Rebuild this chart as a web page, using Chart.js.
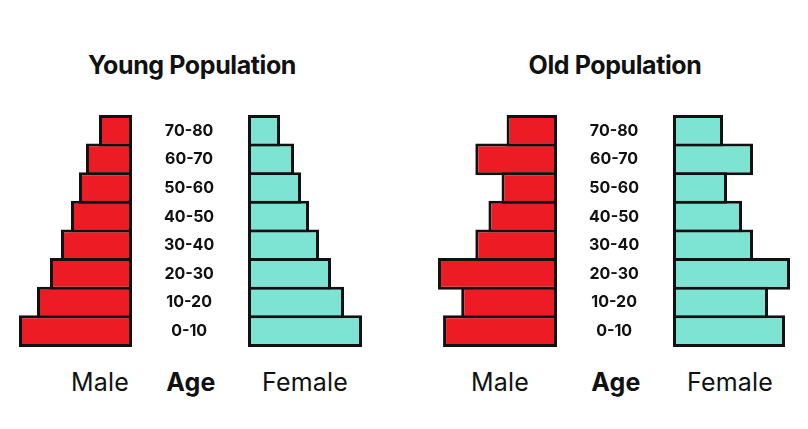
<!DOCTYPE html>
<html>
<head>
<meta charset="utf-8">
<script src="https://cdn.jsdelivr.net/npm/chart.js@4.4.1/dist/chart.umd.min.js"></script>
<style>
  html, body { margin: 0; padding: 0; background: #fff; }
  body { width: 808px; height: 429px; position: relative; overflow: hidden; font-family: "Inter", "Lato", sans-serif; color: #111; }
  .box { position: absolute; }
  .title { position: absolute; top: 50px; font-size: 25px; font-weight: 700; text-align: center; width: 300px; letter-spacing: -0.4px; }
  .lbl { position: absolute; top: 367px; font-size: 25px; text-align: center; width: 140px; letter-spacing: 0.2px; }
  .bold { font-weight: 700; }
</style>
</head>
<body>
<div class="title" style="left:42px">Young Population</div>
<div class="title" style="left:465px">Old Population</div>

<div class="lbl" style="left:30px">Male</div>
<div class="lbl bold" style="left:121px">Age</div>
<div class="lbl" style="left:235px">Female</div>
<div class="lbl" style="left:430px">Male</div>
<div class="lbl bold" style="left:546px">Age</div>
<div class="lbl" style="left:660px">Female</div>

<div class="box" style="left:12px;top:100px;width:236px;height:262px"><canvas id="youngMale"></canvas></div>
<div class="box" style="left:248px;top:100px;width:120px;height:262px"><canvas id="youngFemale"></canvas></div>
<div class="box" style="left:436px;top:100px;width:237px;height:262px"><canvas id="oldMale"></canvas></div>
<div class="box" style="left:673px;top:100px;width:120px;height:262px"><canvas id="oldFemale"></canvas></div>

<script>
// age groups, top to bottom
const ageGroups = ["70-80", "60-70", "50-60", "40-50", "30-40", "20-30", "10-20", "0-10"];

// share of population (relative units)
const youngMale   = [3.3, 4.6, 5.3, 6.1, 7.1, 8.2, 9.5, 11.3];
const youngFemale = [3.2, 4.6, 5.3, 6.1, 7.1, 8.3, 9.6, 11.4];
const oldMale     = [5.0, 8.1, 5.5, 6.8, 8.1, 11.8, 9.5, 11.3];
const oldFemale   = [5.0, 8.0, 5.4, 6.9, 8.0, 11.7, 9.5, 11.2];

const axisMax = 12;
const red = "#ED1C24";
const teal = "#7DE3D3";

function makeChart(id, values, color, side) {
    const isMale = side === "male";
    const yAxis = isMale ? {
        display: true,
        position: "right",
        grid: { display: false, drawTicks: true, tickLength: 32 },
        border: { display: false },
        afterFit: (scale) => { scale.width = 116; },
        ticks: {
            crossAlign: "center",
            padding: 0,
            color: "#111",
            font: { family: "Inter", size: 16, weight: "bold" },
        },
    } : { display: false };

    return new Chart(document.getElementById(id), {
        type: "bar",
        data: {
            labels: ageGroups,
            datasets: [{
                data: values,
                backgroundColor: color,
                borderColor: "#111",
                borderWidth: 3,
                borderSkipped: false,
                barPercentage: 1.105,
                categoryPercentage: 1,
                clip: false,
            }]
        },
        options: {
            indexAxis: "y",
            responsive: true,
            maintainAspectRatio: false,
            animation: false,
            layout: {
                padding: { top: 16.5, bottom: 16.5, left: 0, right: 0 }
            },
            plugins: {
                legend: { display: false },
                tooltip: { enabled: false },
            },
            scales: {
                x: {
                    display: false,
                    min: 0,
                    max: axisMax,
                    reverse: isMale,
                },
                y: yAxis,
            },
        },
    });
}

makeChart("youngMale", youngMale, red, "male");
makeChart("youngFemale", youngFemale, teal, "female");
makeChart("oldMale", oldMale, red, "male");
makeChart("oldFemale", oldFemale, teal, "female");
</script>
</body>
</html>
